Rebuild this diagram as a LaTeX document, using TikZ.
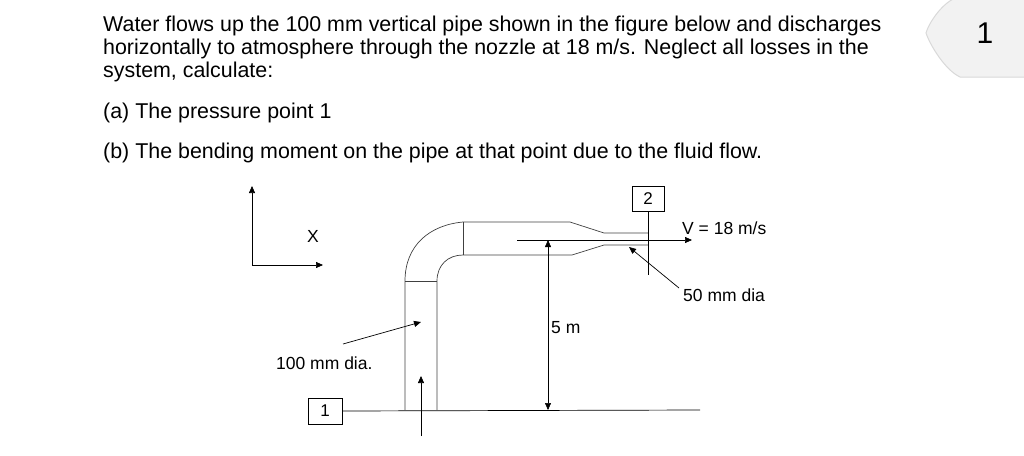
\documentclass[tikz,border=0pt]{standalone}
\usepackage{fontspec}
\setmainfont{Liberation Sans}
\usetikzlibrary{arrows.meta}
\begin{document}
\begin{tikzpicture}[x=1pt,y=-1pt,
  pipe/.style={draw=black!75,line width=0.7pt},
  arr/.style={-{Triangle[length=7pt,width=6pt]},line width=0.7pt},
  lbl/.style={font=\fontsize{17.5}{20}\selectfont,inner sep=0pt},
  body/.style={font=\fontsize{21.4}{24}\selectfont,anchor=base west,inner sep=0pt},
  numbox/.style={draw,line width=0.6pt,minimum width=34pt,minimum height=26pt,font=\fontsize{17}{18}\selectfont,inner sep=0pt}]
\useasboundingbox (0,0) rectangle (1024,455);
% tab
\path[fill=black!5,draw=black!15,line width=1pt] (1030,-2) -- (955,-2) .. controls (940,5) and (928,25) .. (926,33) .. controls (930,45) and (945,70) .. (960,77) -- (1030,77);
\node[font=\fontsize{30}{32}\selectfont] (tabn) at (985,33) {1};
% text
\node[body] (t1) at (103,31) {Water flows up the 100 mm vertical pipe shown in the figure below and discharges};
\node[body] (t2) at (103,54) {horizontally to atmosphere through the nozzle at 18 m/s. Neglect all losses in the};
\node[body] (t3) at (103,77) {system, calculate:};
\node[body] (t4) at (103,118) {(a) The pressure point 1};
\node[body] (t5) at (103,158) {(b) The bending moment on the pipe at that point due to the fluid flow.};
% axes
\coordinate (o) at (252,265);
\coordinate (oy) at (252,186);
\coordinate (ox) at (323,265);
\draw[arr] (o) -- (oy);
\draw[arr] (o) -- (ox);
\node[lbl] (X) at (313,236) {X};
% ground
\node[numbox] (b1) at (325,411) {1};
\coordinate (gE) at (700,410);
\draw[line width=0.7pt] (b1.east) -- (gE);
% pipe
\draw[pipe] (405,410) -- (405,281) .. controls (405,245) and (430,225) .. (463,222) -- (570,222) -- (604,233) -- (648,233);
\draw[pipe] (437,410) -- (437,281) .. controls (437,265) and (448,255) .. (463,255) -- (572,255) -- (604,245) -- (648,245);
\draw[pipe] (405,281) -- (437,281);
\draw[pipe] (463,222) -- (463,255);
% box 2
\node[numbox,minimum width=32pt,minimum height=25pt] (b2) at (648,199) {2};
\coordinate (b2e) at (648,275);
\draw[line width=0.7pt] (b2.south) -- (b2e);
% velocity
\coordinate (vs) at (517,240);
\coordinate (ve) at (692,240);
\draw[arr] (vs) -- (ve);
\node[lbl,anchor=base west] (V) at (682,234) {V = 18 m/s};
% dimension
\coordinate (d1) at (548,240);
\coordinate (d2) at (548,410);
\draw[{Triangle[length=7pt,width=6pt]}-{Triangle[length=7pt,width=6pt]},line width=0.5pt] (d1) -- (d2);
\node[lbl,anchor=base west] (h) at (551,333) {5 m};
% 50 mm
\node[lbl,anchor=base west] (d50) at (683,301) {50 mm dia};
\coordinate (a50s) at (679,288);
\coordinate (a50e) at (629,247);
\draw[arr] (a50s) -- (a50e);
% 100 mm
\node[lbl,anchor=base west] (d100) at (276,369) {100 mm dia.};
\coordinate (a1s) at (343,344);
\coordinate (a1e) at (421,322);
\draw[arr] (a1s) -- (a1e);
\coordinate (u1) at (421,436);
\coordinate (u2) at (421,376);
\draw[arr] (u1) -- (u2);
\end{tikzpicture}
\end{document}
